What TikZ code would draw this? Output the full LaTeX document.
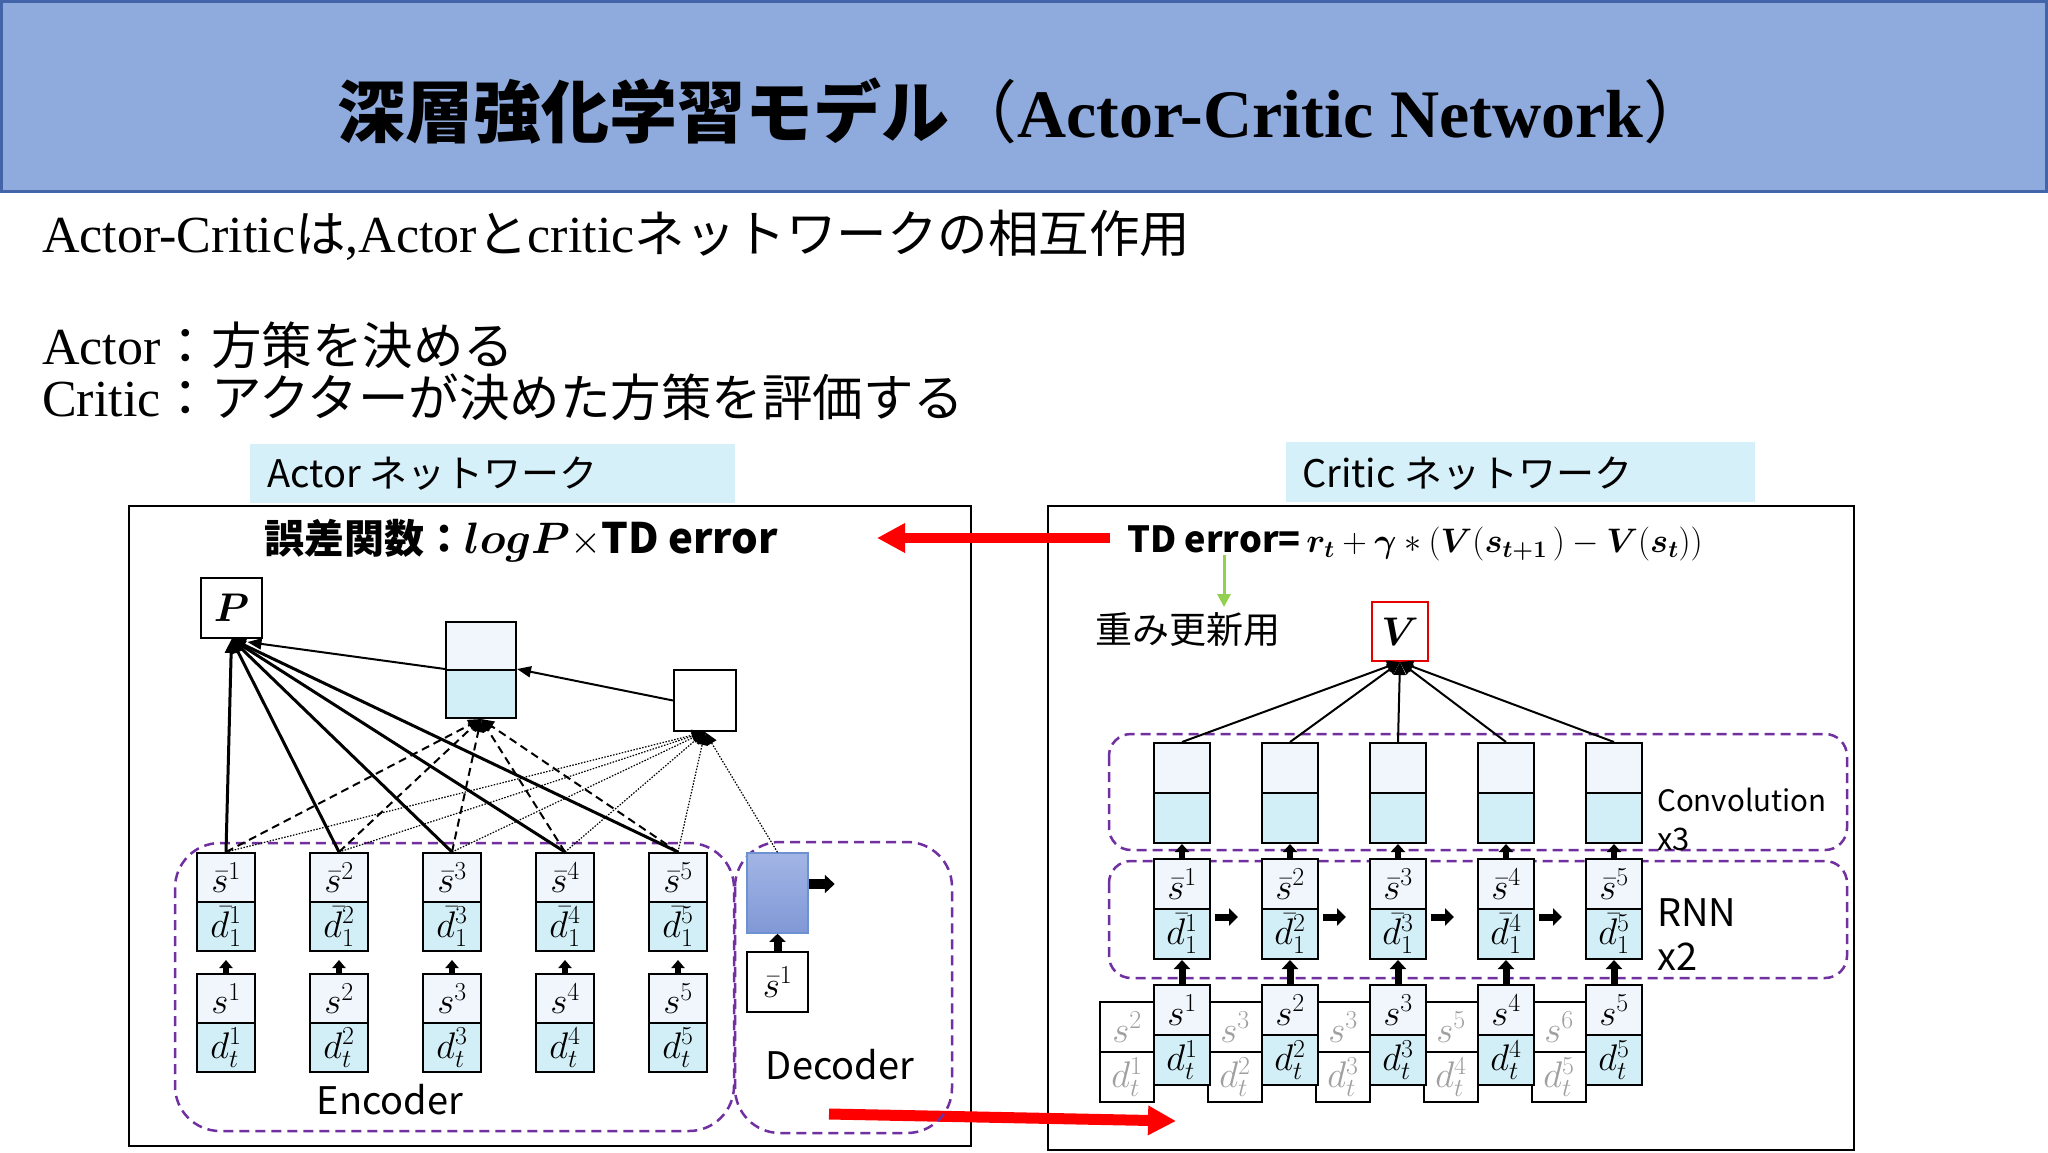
\RequirePackage{fix-cm}
\documentclass[tikz,border=0pt]{standalone}
\usepackage{fontspec}
\usepackage{bm}
\usetikzlibrary{arrows.meta,calc}
\setmainfont{Liberation Serif}
\newfontfamily\jp{Noto Sans CJK JP}
\definecolor{titleblue}{RGB}{143,170,220}
\definecolor{titleline}{RGB}{68,100,170}
\definecolor{labelcyan}{RGB}{214,240,249}
\definecolor{cellLight}{RGB}{240,246,252}
\definecolor{cellCyan}{RGB}{210,238,246}
\definecolor{encpurple}{RGB}{112,48,160}
\definecolor{decborder}{RGB}{110,145,210}
\definecolor{dectop}{RGB}{162,181,229}
\definecolor{decbot}{RGB}{128,152,214}
\definecolor{vred}{RGB}{230,0,0}
\definecolor{arrowred}{RGB}{255,0,0}
\definecolor{arrowgreen}{RGB}{146,208,80}
\definecolor{graytext}{RGB}{160,160,160}
\newcommand\boxfont{\fontsize{37bp}{42bp}\selectfont}
\newcommand\jpline{\jp\fontsize{50.5bp}{60bp}\selectfont}
\newcommand\sansfont{\jp\fontsize{38bp}{44bp}\selectfont}
\tikzset{
  bx/.style={draw=black, line width=2bp, inner sep=0pt, font=\boxfont, text=black},
  lt/.style={bx, fill=cellLight},
  cy/.style={bx, fill=cellCyan},
  gr/.style={bx, fill=white, text=graytext},
  purplebox/.style={draw=encpurple, line width=2.5bp, dash pattern=on 10bp off 6bp},
  thickarr/.style={line width=3bp, -{Triangle[length=14bp,width=12bp]}},
  thinarr/.style={line width=2bp, -{Triangle[length=14bp,width=11bp]}},
  dasharr/.style={line width=2bp, dash pattern=on 8bp off 5bp, -{Triangle[length=13bp,width=11bp]}},
  dotarr/.style={line width=1.2bp, dash pattern=on 1.5bp off 1.5bp, -{Triangle[length=13bp,width=11bp]}},
  blockarr/.style={line width=7bp, -{Triangle[length=9bp,width=16bp]}},
  txt/.style={inner sep=0pt, anchor=base west},
}
\begin{document}
\begin{tikzpicture}[x=1bp,y=-1bp]
\useasboundingbox (0,0) rectangle (2048,1152);
\fill[white] (0,0) rectangle (2048,1152);
% title bar
\fill[titleblue] (0,0) rectangle (2048,191);
\draw[titleline, line width=3bp] (1.5,1.5) rectangle (2046.5,191);
\node[txt] (title) at (337,137) {\fontsize{68bp}{80bp}\selectfont{\jp\bfseries 深層強化学習モデル}{\jp （}\textbf{Actor-Critic Network}{\jp ）}};
% intro text
\node[txt] (line1) at (42,252) {\fontsize{52bp}{60bp}\selectfont Actor-Critic{\jpline は},Actor{\jpline と}critic{\jpline ネットワークの相互作用}};
\node[txt] (line2) at (42,364) {\fontsize{52bp}{60bp}\selectfont Actor{\jpline ：方策を決める}};
\node[txt] (line3) at (42,416) {\fontsize{52bp}{60bp}\selectfont Critic{\jpline ：アクターが決めた方策を評価する}};
% labels
\fill[labelcyan] (250,444) rectangle (735,503);
\node[txt] (alabel) at (267,487) {\sansfont Actor ネットワーク};
\fill[labelcyan] (1286,442) rectangle (1755,502);
\node[txt] (clabel) at (1302,487) {\sansfont Critic ネットワーク};
% big frames
\draw[line width=2.5bp] (129,506) rectangle (971,1146);
\draw[line width=2.5bp] (1048,506) rectangle (1854,1150);
% actor heading
\node[txt] (ahead) at (264,553) {\jp\bfseries\fontsize{40bp}{48bp}\selectfont 誤差関数：{\fontsize{44bp}{48bp}\selectfont$\bm{logP}$}{\fontsize{40bp}{48bp}\selectfont$\times$}{\fontsize{42bp}{48bp}\selectfont TD error}};
% TD error formula
\node[txt] (tderr) at (1127,552) {{\jp\bfseries\fontsize{36bp}{48bp}\selectfont TD error=}\fontsize{34bp}{44bp}\selectfont$\,\bm{r_t}+\bm{\gamma}*(\bm{V}(\bm{s_{t+1}}\,)-\bm{V}(\bm{s_t})\big)$};
% red arrows
\coordinate (tdtail) at (1110,538);
\coordinate (tdtip) at (877,538);
\draw[arrowred, line width=10bp, -{Triangle[length=28bp,width=28bp]}] (tdtail) -- (tdtip);
% green arrow and label
\node (wlabel) at (1188,630) {\jp\fontsize{37bp}{44bp}\selectfont 重み更新用};
\coordinate (gstart) at (1224,555);
\coordinate (gend) at (1224,607);
\draw[arrowgreen, line width=3bp, -{Triangle[length=13bp,width=13bp]}] (gstart) -- (gend);
% V node
\node[draw=vred, line width=2bp, fill=white, minimum width=56bp, minimum height=59bp, inner sep=0pt] (V) at (1400,631.5) {\fontsize{40bp}{44bp}\selectfont$\bm{V}$};
% critic dashed groups
\draw[purplebox, rounded corners=22bp] (1109,734) rectangle (1847,850);
\draw[purplebox, rounded corners=22bp] (1109,861) rectangle (1847,978);
\node[txt] (convtxt) at (1657,811) {\jp\fontsize{29.5bp}{36bp}\selectfont Convolution};
\node[txt] (x3txt) at (1657,850) {\jp\fontsize{31bp}{36bp}\selectfont x3};
\node[txt] (rnntxt) at (1657,926) {\jp\fontsize{38bp}{44bp}\selectfont RNN};
\node[txt] (x2txt) at (1657,970) {\jp\fontsize{38bp}{44bp}\selectfont x2};
% critic input gray boxes
\foreach \i/\x/\s in {1/1127/2,2/1235/3,3/1343/3,4/1451/5,5/1559/6} {
  \node[gr, minimum width=54bp, minimum height=50bp] (gu\i) at (\x,1027) {$s^{\s}$};
  \node[gr, minimum width=54bp, minimum height=50bp] (gl\i) at (\x,1077) {$d^{\i}_{t}$};
}
% critic columns
\foreach \i/\x in {1/1182,2/1290,3/1398,4/1506,5/1614} {
  \node[lt, minimum width=56bp, minimum height=50bp] (cu\i) at (\x,768) {};
  \node[cy, minimum width=56bp, minimum height=50bp] (cl\i) at (\x,818) {};
  \node[lt, minimum width=56bp, minimum height=50bp] (ru\i) at (\x,884) {$\bar{s}^{\i}$};
  \node[cy, minimum width=56bp, minimum height=50bp] (rl\i) at (\x,934) {$\bar{d}^{\i}_{1}$};
  \node[lt, minimum width=56bp, minimum height=50bp] (mu\i) at (\x,1010) {$s^{\i}$};
  \node[cy, minimum width=56bp, minimum height=50bp] (ml\i) at (\x,1060) {$d^{\i}_{t}$};
  \draw[line width=2bp, -{Triangle[length=13bp,width=12bp]}] (cu\i.north) -- (V.south);
  \draw[blockarr] (mu\i.north) -- (rl\i.south);
  \draw[blockarr, line width=6bp, -{Triangle[length=8bp,width=14bp]}] (ru\i.north) -- (cl\i.south);
}
\foreach \i in {1,2,3,4} {
  \draw[blockarr, line width=7bp, -{Triangle[length=9bp,width=17bp]}] ($(ru\i.south east)+(4,7)$) -- ($(ru\i.south east)+(27,7)$);
}
\coordinate (bstart) at (829,1114);
\coordinate (bend) at (1176,1121);
\draw[arrowred, line width=11bp, -{Triangle[length=28bp,width=28bp]}] (bstart) -- (bend);
% actor: encoder / decoder groups
\draw[purplebox, rounded corners=45bp] (175,843) rectangle (734,1131);
\draw[purplebox, rounded corners=45bp] (735,842) rectangle (952,1133);
\node (enctxt) at (390,1100) {\sansfont Encoder};
\node (dectxt) at (840,1065) {\sansfont Decoder};
% top nodes
\node[bx, fill=white, minimum width=61bp, minimum height=60bp] (P) at (231.5,608) {\fontsize{40bp}{44bp}\selectfont$\bm{P}$};
\node[lt, minimum width=70bp, minimum height=48bp] (mtop) at (481,646) {};
\node[cy, minimum width=70bp, minimum height=48bp] (mbot) at (481,694) {};
\node[bx, fill=white, minimum width=62bp, minimum height=61bp] (W) at (705,700.5) {};
% decoder nodes
\node[draw=decborder, line width=1.5bp, top color=dectop, bottom color=decbot, minimum width=61bp, minimum height=80bp, inner sep=0pt] (dblue) at (777.5,893) {};
\node[bx, fill=white, minimum width=61bp, minimum height=60bp] (ds) at (777.5,982) {$\bar{s}^{1}$};
\draw[blockarr, line width=8bp, -{Triangle[length=8bp,width=16bp]}] (ds.north) -- (dblue.south);
\draw[blockarr, line width=10bp, -{Triangle[length=10bp,width=18bp]}] ($(dblue.east)+(0,-9)$) -- ($(dblue.east)+(26,-9)$);
% encoder columns
\foreach \i/\x in {1/226,2/339,3/452,4/565,5/678} {
  \node[lt, minimum width=58bp, minimum height=49bp] (et\i) at (\x,877.5) {$\bar{s}^{\i}$};
  \node[cy, minimum width=58bp, minimum height=49bp] (ed\i) at (\x,926.5) {$\bar{d}^{\i}_{1}$};
  \node[lt, minimum width=58bp, minimum height=49bp] (es\i) at (\x,998.5) {$s^{\i}$};
  \node[cy, minimum width=58bp, minimum height=49bp] (edt\i) at (\x,1047.5) {$d^{\i}_{t}$};
  \draw[blockarr, line width=6bp, -{Triangle[length=8bp,width=13bp]}, shorten >=8bp] (es\i.north) -- (ed\i.south);
}
\foreach \i in {1,...,5} {
  \draw[dotarr] (et\i.north) -- (W.south);
}
\draw[dotarr] (dblue.north) -- (W.south);
\foreach \i in {1,...,5} {
  \draw[dasharr] (et\i.north) -- (mbot.south);
}
\foreach \i in {1,...,5} {
  \draw[thickarr] (et\i.north) -- (P.south);
}
\draw[thinarr] (W.west) -- (mbot.north east);
\draw[thinarr] (mbot.north west) -- ($(P.south)+(16,3)$);
\end{tikzpicture}
\end{document}
